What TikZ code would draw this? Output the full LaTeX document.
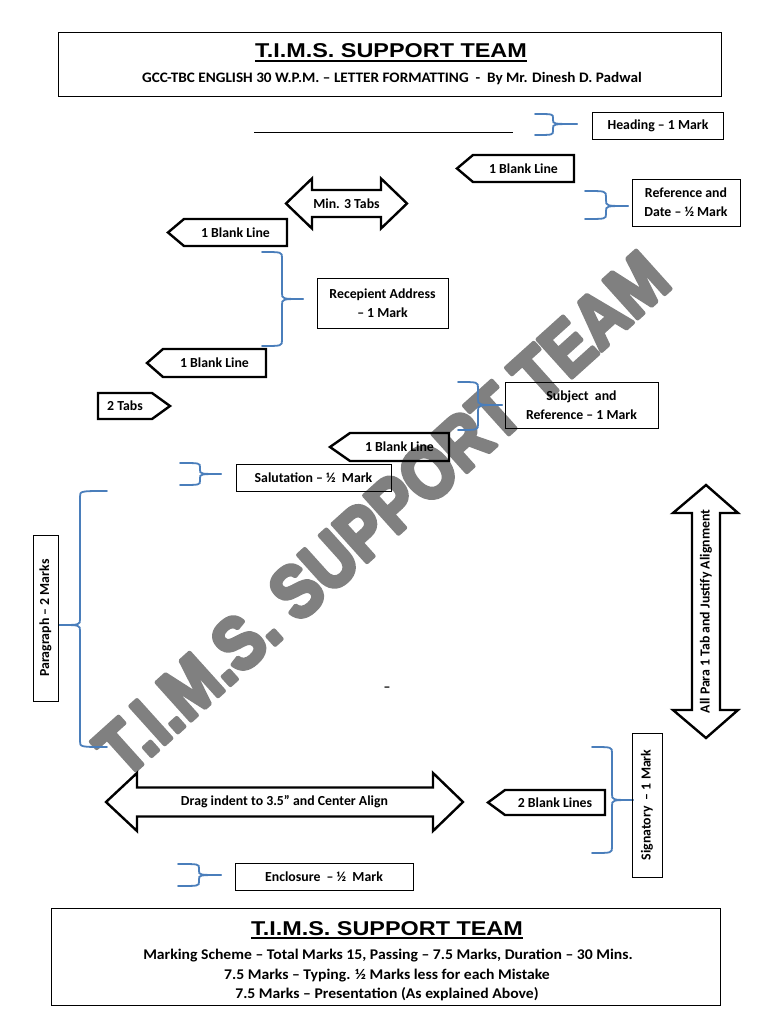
\documentclass[tikz,border=0pt]{standalone}
\usepackage{fontspec}
\setmainfont{Carlito}
\newfontfamily\arialfont{Liberation Sans}
\usepackage{graphicx}
\definecolor{bracecol}{RGB}{74,126,187}
\definecolor{wmgray}{RGB}{128,128,128}
% brace: x ends, x vertical, x tick, y top, y middle, y bottom
\newcommand\mybrace[6]{%
  \draw[bracestroke] (#1,#4) .. controls (#2,#4) .. (#2,{#4+min(6,0.4*(#5-#4))}) -- (#2,{#5-min(6,0.4*(#5-#4))}) .. controls (#2,#5) .. (#3,#5);
  \draw[bracestroke] (#1,#6) .. controls (#2,#6) .. (#2,{#6-min(6,0.4*(#6-#5))}) -- (#2,{#5+min(6,0.4*(#6-#5))}) .. controls (#2,#5) .. (#3,#5);}
% left-pointing sign: name, tip x, rect-left x, right x, top y, bottom y, text
\newcommand\lsign[7]{%
  \draw[sigline] (#2,{(#5+#6)/2}) -- (#3,#5) -- (#4,#5) -- (#4,#6) -- (#3,#6) -- cycle;
  \node[lab] (#1) at ({(#3+#4)/2},{(#5+#6)/2}) {#7};}
% right-pointing sign: name, left x, rect-right x, tip x, top y, bottom y, text
\newcommand\rsign[7]{%
  \draw[sigline] (#2,#5) -- (#3,#5) -- (#4,{(#5+#6)/2}) -- (#3,#6) -- (#2,#6) -- cycle;
  \node[lab] (#1) at ({(#2+#3)/2},{(#5+#6)/2}) {#7};}
% horizontal double arrow: name, xL, baseL, baseR, xR, yc, head half, body half, text
\newcommand\hdarrow[9]{%
  \draw[sigline] (#2,#6) -- (#3,#6-#7) -- (#3,#6-#8) -- (#4,#6-#8) -- (#4,#6-#7) -- (#5,#6) -- (#4,#6+#7) -- (#4,#6+#8) -- (#3,#6+#8) -- (#3,#6+#7) -- cycle;
  \node[lab] (#1) at ({(#2+#5)/2},#6) {#9};}
\begin{document}
\begin{tikzpicture}[x=1pt,y=-1pt,
  lab/.style={inner sep=0pt, align=center, font=\bfseries\fontsize{13.8}{19}\selectfont},
  box/.style={draw, line width=0.8pt, inner sep=0pt, align=center, font=\bfseries\fontsize{13.8}{19}\selectfont},
  sigline/.style={line width=2.4pt, line join=miter},
  bracestroke/.style={draw=bracecol, line width=1.8pt, line cap=round},
  titlefont/.style={inner sep=0pt, anchor=base, font=\arialfont\bfseries\fontsize{20}{24}\selectfont},
  linefont/.style={inner sep=0pt, anchor=base, font=\bfseries\fontsize{14.8}{17}\selectfont},
  watermark/.style={text=wmgray, inner sep=0pt, font=\arialfont\bfseries\fontsize{74}{80}\selectfont}]
\useasboundingbox (0,0) rectangle (768,1024);
\fill[white] (0,0) rectangle (768,1024);

% watermark
\node[watermark, rotate=42] (wm) at (382,514) {\special{pdf:code q 0.502 0.502 0.502 RG 2 Tr 4.5 w 1 j}\scalebox{0.86}[1]{T.I.M.S. SUPPORT TEAM}\special{pdf:code Q}};

% header
\node[draw, line width=0.8pt, minimum width=663, minimum height=64, inner sep=0pt] (topbox) at (389.5,64.5) {};
\node[titlefont] (title1) at (391,58) {\scalebox{1.17}[1]{T.I.M.S. SUPPORT TEAM}};
\draw[line width=1.5pt] ([yshift=-3pt]title1.base west) -- ([yshift=-3pt]title1.base east);
\node[linefont, font=\bfseries\fontsize{14.5}{17}\selectfont] (subtitle) at (392,83) {\scalebox{1.05}[1]{GCC-TBC ENGLISH 30 W.P.M. -- LETTER FORMATTING\ \ -\ \ By Mr. Dinesh D. Padwal}};

% heading line
\coordinate (hl1) at (254,132);
\coordinate (hl2) at (513,132);
\draw[line width=0.8pt] (hl1) -- (hl2);

% braces
\mybrace{535}{553}{577}{114}{124}{135}
\mybrace{585}{606}{628}{191}{206}{219}
\mybrace{262}{282}{303}{252}{299}{346}
\mybrace{458}{478}{502}{382}{405}{430}
\mybrace{180}{200}{221}{463}{474}{485}
\mybrace{107}{80}{59}{491}{625}{747}
\mybrace{592}{612}{633}{747}{800}{853}
\mybrace{178}{199}{221}{864}{875}{886}

% mark boxes
\node[box, minimum width=131, minimum height=27] (heading) at (658,125.5) {Heading -- 1 Mark};
\node[box, minimum width=108, minimum height=47] (refdate) at (686,202.5) {Reference and\\Date -- \char"00BD\ Mark};
\node[box, minimum width=131, minimum height=50] (recip) at (382.5,303) {Recepient Address\\-- 1 Mark};
\node[box, minimum width=153, minimum height=46] (subject) at (581.5,405) {Subject\ \ and\\Reference -- 1 Mark};
\node[box, minimum width=155, minimum height=27] (salut) at (313.5,477.5) {Salutation -- \char"00BD\ \ Mark};
\node[box, minimum width=166, minimum height=25, rotate=90] (para) at (45.5,618) {Paragraph -- 2 Marks};
\node[box, minimum width=144, minimum height=30, rotate=90] (sign) at (647,805) {Signatory\ \ -- 1 Mark};
\node[box, minimum width=178, minimum height=27] (encl) at (324,876.5) {Enclosure\ \ -- \char"00BD\ \ Mark};

% signs
\lsign{blank1}{457}{473}{574}{155}{182}{1 Blank Line}
\lsign{blank2}{168}{184}{287}{219}{246}{1 Blank Line}
\lsign{blank3}{147}{163}{266}{349}{377}{1 Blank Line}
\lsign{blank4}{330}{350}{449}{433}{461}{1 Blank Line}
\lsign{blank5}{488}{505}{605}{790}{815}{2 Blank Lines}
\rsign{tabs2}{98}{152}{170}{393}{419}{2 Tabs}

% double arrows
\hdarrow{min3}{286}{312}{381}{407}{203.5}{25}{13.5}{Min. 3 Tabs}
\hdarrow{drag}{106}{137}{433}{463}{802}{29}{14.5}{Drag indent to 3.5\char"201D\ and Center Align}
\draw[sigline] (706,485) -- (738,513) -- (720,513) -- (720,710) -- (738,710) -- (706,738) -- (673,710) -- (692,710) -- (692,513) -- (673,513) -- cycle;
\node[lab, rotate=90] (allpara) at (706,611.5) {All Para 1 Tab and Justify Alignment};

% stray dash
\node[lab] (dash) at (387,689) {--};

% footer
\node[draw, line width=0.8pt, minimum width=669, minimum height=97, inner sep=0pt] (botbox) at (385.5,956.5) {};
\node[titlefont] (title2) at (387,935) {\scalebox{1.17}[1]{T.I.M.S. SUPPORT TEAM}};
\draw[line width=1.5pt] ([yshift=-3pt]title2.base west) -- ([yshift=-3pt]title2.base east);
\node[linefont] (ml1) at (388,959) {\scalebox{1.06}[1]{Marking Scheme -- Total Marks 15, Passing -- 7.5 Marks, Duration -- 30 Mins.}};
\node[linefont] (ml2) at (387,979) {\scalebox{1.06}[1]{7.5 Marks -- Typing. \char"00BD\ Marks less for each Mistake}};
\node[linefont] (ml3) at (387,998) {\scalebox{1.06}[1]{7.5 Marks -- Presentation (As explained Above)}};
\end{tikzpicture}
\end{document}
